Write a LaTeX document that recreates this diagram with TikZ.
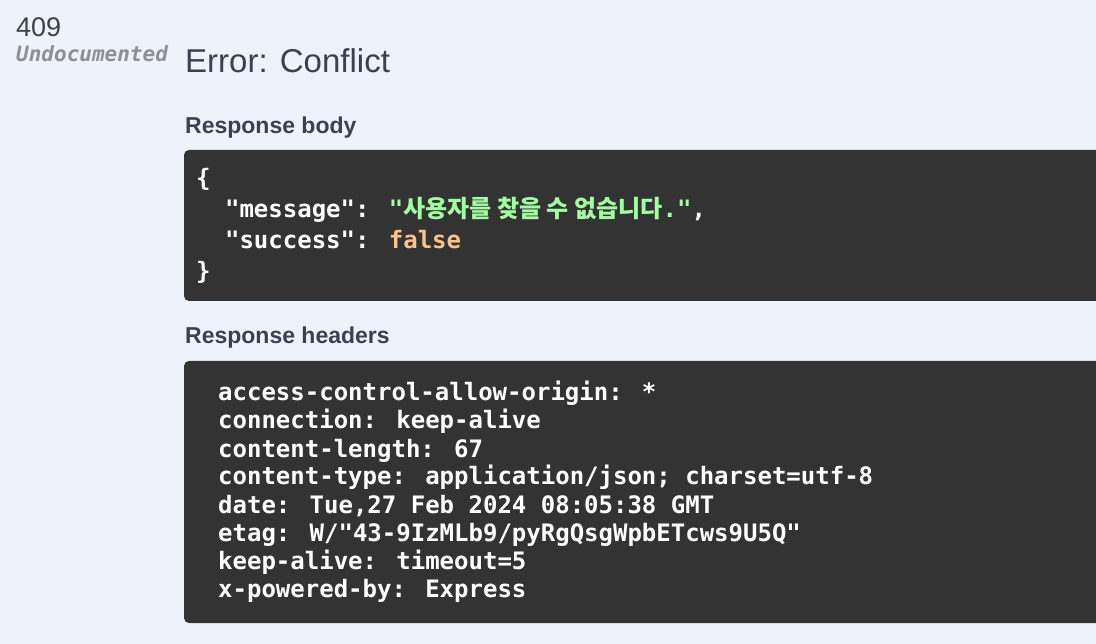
\documentclass[tikz,border=0pt]{standalone}
\usepackage{fontspec}
\setmainfont{Liberation Sans}
\newfontfamily\codefont{DejaVu Sans Mono}
\newfontfamily\krfont{Noto Sans CJK KR}
\definecolor{bg}{HTML}{EEF2FA}
\definecolor{box}{HTML}{333333}
\definecolor{txt}{HTML}{3B4151}
\definecolor{strc}{HTML}{A2FCA2}
\definecolor{boolc}{HTML}{FCC28C}
\definecolor{undoc}{HTML}{909090}
\tikzset{
  lbl/.style={anchor=base west, inner sep=0pt, text=txt},
  code/.style={anchor=base west, inner sep=0pt, text=white, font=\codefont\bfseries\fontsize{24}{28}\selectfont},
  panel/.style={fill=box, rounded corners=5pt},
}
\begin{document}
\begin{tikzpicture}[x=1pt,y=-1pt]
\fill[bg] (0,0) rectangle (1096,644);
\useasboundingbox (0,0) rectangle (1096,644);
\node[lbl, font=\fontsize{27}{30}\selectfont] (code) at (16,37) {409};
\node[lbl, text=undoc, font=\codefont\bfseries\itshape\fontsize{21}{24}\selectfont] (undoc) at (16,62) {Undocumented};
\node[lbl, font=\fontsize{33}{36}\selectfont] (err) at (185,73) {Error: Conflict};
\node[lbl, font=\bfseries\fontsize{23}{26}\selectfont] (rb) at (185,134) {Response body};
\fill[panel] (184,150) rectangle (1110,301);
\node[code] (l1) at (196,187) {\{};
\node[code] (l2) at (196,218) {\ \ "message": \textcolor{strc}{"{\krfont\bfseries 사용자를 찾을 수 없습니다}."},};
\node[code] (l3) at (196,249) {\ \ "success": \textcolor{boolc}{false}};
\node[code] (l4) at (196,280) {\}};
\node[lbl, font=\bfseries\fontsize{23}{26}\selectfont] (rh) at (185,344) {Response headers};
\fill[panel] (184,361) rectangle (1110,623);
\node[code] (h0) at (218,401) {access-control-allow-origin: *};
\node[code] (h1) at (218,429) {connection: keep-alive};
\node[code] (h2) at (218,457) {content-length: 67};
\node[code] (h3) at (218,485) {content-type: application/json; charset=utf-8};
\node[code] (h4) at (218,513) {date: Tue,27 Feb 2024 08:05:38 GMT};
\node[code] (h5) at (218,541) {etag: W/"43-9IzMLb9/pyRgQsgWpbETcws9U5Q"};
\node[code] (h6) at (218,569) {keep-alive: timeout=5};
\node[code] (h7) at (218,597) {x-powered-by: Express};
\end{tikzpicture}
\end{document}
